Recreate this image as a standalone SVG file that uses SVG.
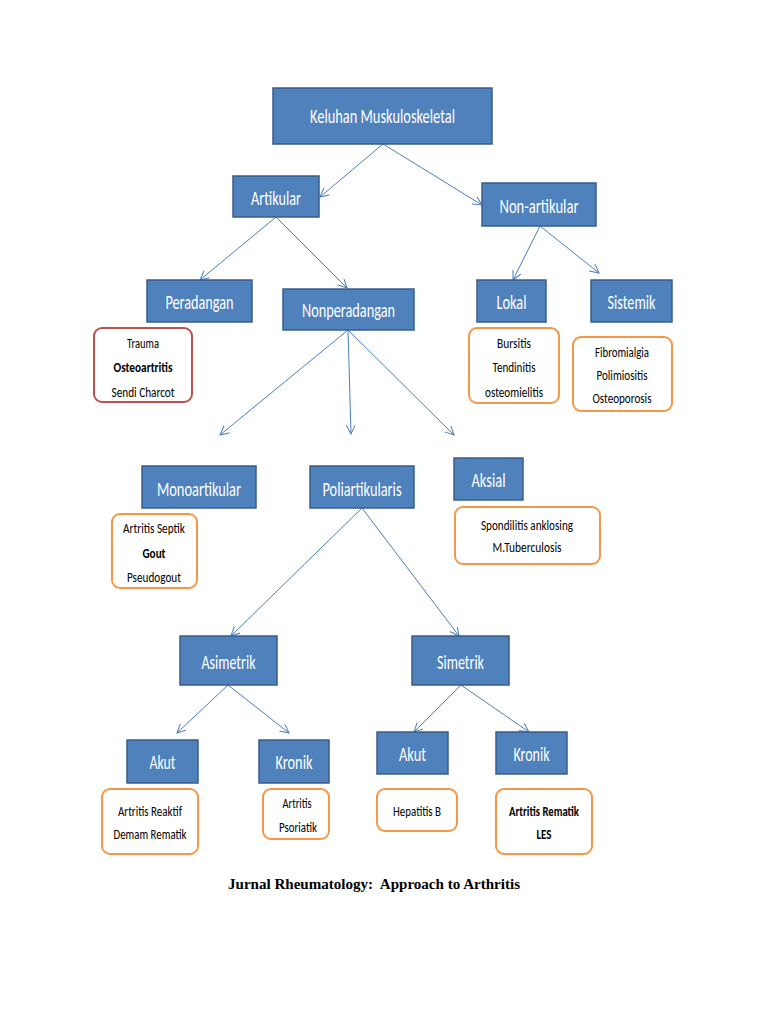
<svg xmlns="http://www.w3.org/2000/svg" width="768" height="1024" viewBox="0 0 768 1024">
<defs>
<style>
.node rect{fill:#4F81BD;stroke:#385D8A;stroke-width:1.5}
.node text{font-family:Carlito,"Liberation Sans",sans-serif;font-size:20px;fill:#ffffff;text-anchor:middle}
.leaf rect{fill:#ffffff;stroke:#F79646;stroke-width:2}
.leaf.red rect{stroke:#C0504D}
.leaf text{font-family:Carlito,"Liberation Sans",sans-serif;font-size:14.5px;fill:#000000;text-anchor:middle}
.leaf text.b{font-weight:bold}
#connectors line{stroke:#4A7EBB;stroke-width:1;fill:none;marker-end:url(#arr)}
.caption{font-family:"Liberation Serif",serif;font-weight:bold;font-size:14px;fill:#000;text-anchor:middle;white-space:pre}
</style>
<marker id="arr" markerUnits="userSpaceOnUse" markerWidth="12" markerHeight="12" refX="9" refY="4.5" orient="auto">
<path d="M0,0 L9,4.5 L0,9" fill="none" stroke="#4A7EBB" stroke-width="1"/>
</marker>
</defs>
<rect width="768" height="1024" fill="#ffffff"/>
<g id="connectors">
<line x1="383" y1="144" x2="320" y2="197"/>
<line x1="383" y1="144" x2="482" y2="205"/>
<line x1="276" y1="217" x2="200" y2="280"/>
<line x1="276" y1="217" x2="347" y2="288"/>
<line x1="540" y1="226" x2="513" y2="280"/>
<line x1="540" y1="226" x2="599" y2="273"/>
<line x1="348" y1="330" x2="220" y2="435"/>
<line x1="348" y1="330" x2="351" y2="434"/>
<line x1="348" y1="330" x2="454" y2="435"/>
<line x1="362" y1="508" x2="231" y2="636"/>
<line x1="362" y1="508" x2="459" y2="636"/>
<line x1="228" y1="685" x2="177" y2="733"/>
<line x1="228" y1="685" x2="289" y2="733"/>
<line x1="461" y1="685" x2="414" y2="732"/>
<line x1="461" y1="685" x2="529" y2="732"/>
</g>
<g id="keluhan" class="node"><rect x="273" y="88" width="219" height="56"/><text x="382.5" y="123" textLength="145" lengthAdjust="spacingAndGlyphs">Keluhan Muskuloskeletal</text></g>
<g id="artikular" class="node"><rect x="233" y="176" width="86" height="41"/><text x="276" y="205" textLength="50" lengthAdjust="spacingAndGlyphs">Artikular</text></g>
<g id="nonartikular" class="node"><rect x="482" y="183" width="114" height="43"/><text x="539" y="213" textLength="79" lengthAdjust="spacingAndGlyphs">Non-artikular</text></g>
<g id="peradangan" class="node"><rect x="147" y="280" width="105" height="42"/><text x="199.5" y="309" textLength="68" lengthAdjust="spacingAndGlyphs">Peradangan</text></g>
<g id="nonperadangan" class="node"><rect x="283" y="289" width="131" height="41"/><text x="348.5" y="317" textLength="93" lengthAdjust="spacingAndGlyphs">Nonperadangan</text></g>
<g id="lokal" class="node"><rect x="477" y="280" width="69" height="42"/><text x="511.5" y="309" textLength="30" lengthAdjust="spacingAndGlyphs">Lokal</text></g>
<g id="sistemik" class="node"><rect x="591" y="280" width="81" height="42"/><text x="631.5" y="309" textLength="48" lengthAdjust="spacingAndGlyphs">Sistemik</text></g>
<g id="leaf-peradangan" class="leaf red"><rect x="94" y="328" width="98" height="74" rx="8"/><text x="143" y="348" textLength="32" lengthAdjust="spacingAndGlyphs">Trauma</text><text class="b" x="143" y="372" textLength="59" lengthAdjust="spacingAndGlyphs">Osteoartritis</text><text x="143" y="397" textLength="63" lengthAdjust="spacingAndGlyphs">Sendi Charcot</text></g>
<g id="leaf-lokal" class="leaf"><rect x="469" y="328" width="90" height="75" rx="8"/><text x="514" y="348" textLength="34" lengthAdjust="spacingAndGlyphs">Bursitis</text><text x="514" y="372" textLength="43" lengthAdjust="spacingAndGlyphs">Tendinitis</text><text x="514" y="397" textLength="58" lengthAdjust="spacingAndGlyphs">osteomielitis</text></g>
<g id="leaf-sistemik" class="leaf"><rect x="573" y="337" width="99" height="74" rx="8"/><text x="622" y="357" textLength="54" lengthAdjust="spacingAndGlyphs">Fibromialgia</text><text x="622" y="380" textLength="51" lengthAdjust="spacingAndGlyphs">Polimiositis</text><text x="622" y="403" textLength="59" lengthAdjust="spacingAndGlyphs">Osteoporosis</text></g>
<g id="monoartikular" class="node"><rect x="142" y="466" width="114" height="42"/><text x="199" y="496" textLength="84" lengthAdjust="spacingAndGlyphs">Monoartikular</text></g>
<g id="poliartikularis" class="node"><rect x="310" y="466" width="104" height="42"/><text x="362" y="496" textLength="79" lengthAdjust="spacingAndGlyphs">Poliartikularis</text></g>
<g id="aksial" class="node"><rect x="454" y="458" width="69" height="42"/><text x="488.5" y="487" textLength="34" lengthAdjust="spacingAndGlyphs">Aksial</text></g>
<g id="leaf-mono" class="leaf"><rect x="112" y="514" width="85" height="74" rx="8"/><text x="154" y="533" textLength="62" lengthAdjust="spacingAndGlyphs">Artritis Septik</text><text class="b" x="154" y="558" textLength="23" lengthAdjust="spacingAndGlyphs">Gout</text><text x="154" y="582" textLength="54" lengthAdjust="spacingAndGlyphs">Pseudogout</text></g>
<g id="leaf-aksial" class="leaf"><rect x="455" y="507" width="145" height="57" rx="8"/><text x="527" y="530" textLength="92" lengthAdjust="spacingAndGlyphs">Spondilitis anklosing</text><text x="527" y="552" textLength="69" lengthAdjust="spacingAndGlyphs">M.Tuberculosis</text></g>
<g id="asimetrik" class="node"><rect x="180" y="636" width="97" height="49"/><text x="228.5" y="669" textLength="54" lengthAdjust="spacingAndGlyphs">Asimetrik</text></g>
<g id="simetrik" class="node"><rect x="412" y="636" width="97" height="49"/><text x="460.5" y="669" textLength="47" lengthAdjust="spacingAndGlyphs">Simetrik</text></g>
<g id="akut-asim" class="node"><rect x="127" y="740" width="71" height="43"/><text x="162.5" y="769" textLength="26" lengthAdjust="spacingAndGlyphs">Akut</text></g>
<g id="kronik-asim" class="node"><rect x="259" y="740" width="70" height="43"/><text x="294" y="769" textLength="37" lengthAdjust="spacingAndGlyphs">Kronik</text></g>
<g id="akut-sim" class="node"><rect x="377" y="732" width="71" height="42"/><text x="412.5" y="761" textLength="27" lengthAdjust="spacingAndGlyphs">Akut</text></g>
<g id="kronik-sim" class="node"><rect x="496" y="732" width="71" height="42"/><text x="531.5" y="761" textLength="36" lengthAdjust="spacingAndGlyphs">Kronik</text></g>
<g id="leaf-akut-asim" class="leaf"><rect x="102" y="789" width="96" height="65" rx="8"/><text x="150" y="816" textLength="64" lengthAdjust="spacingAndGlyphs">Artritis Reaktif</text><text x="150" y="839" textLength="73" lengthAdjust="spacingAndGlyphs">Demam Rematik</text></g>
<g id="leaf-kronik-asim" class="leaf"><rect x="263" y="789" width="66" height="50" rx="8"/><text x="297" y="808" textLength="29" lengthAdjust="spacingAndGlyphs">Artritis</text><text x="298" y="832" textLength="38" lengthAdjust="spacingAndGlyphs">Psoriatik</text></g>
<g id="leaf-akut-sim" class="leaf"><rect x="377" y="789" width="80" height="42" rx="8"/><text x="417" y="816" textLength="48" lengthAdjust="spacingAndGlyphs">Hepatitis B</text></g>
<g id="leaf-kronik-sim" class="leaf"><rect x="496" y="789" width="96" height="65" rx="8"/><text class="b" x="544" y="816" textLength="70" lengthAdjust="spacingAndGlyphs">Artritis Rematik</text><text class="b" x="544" y="839" textLength="15" lengthAdjust="spacingAndGlyphs">LES</text></g>
<text class="caption" x="374" y="889" textLength="292" lengthAdjust="spacingAndGlyphs">Jurnal Rheumatology:  Approach to Arthritis</text>
</svg>
